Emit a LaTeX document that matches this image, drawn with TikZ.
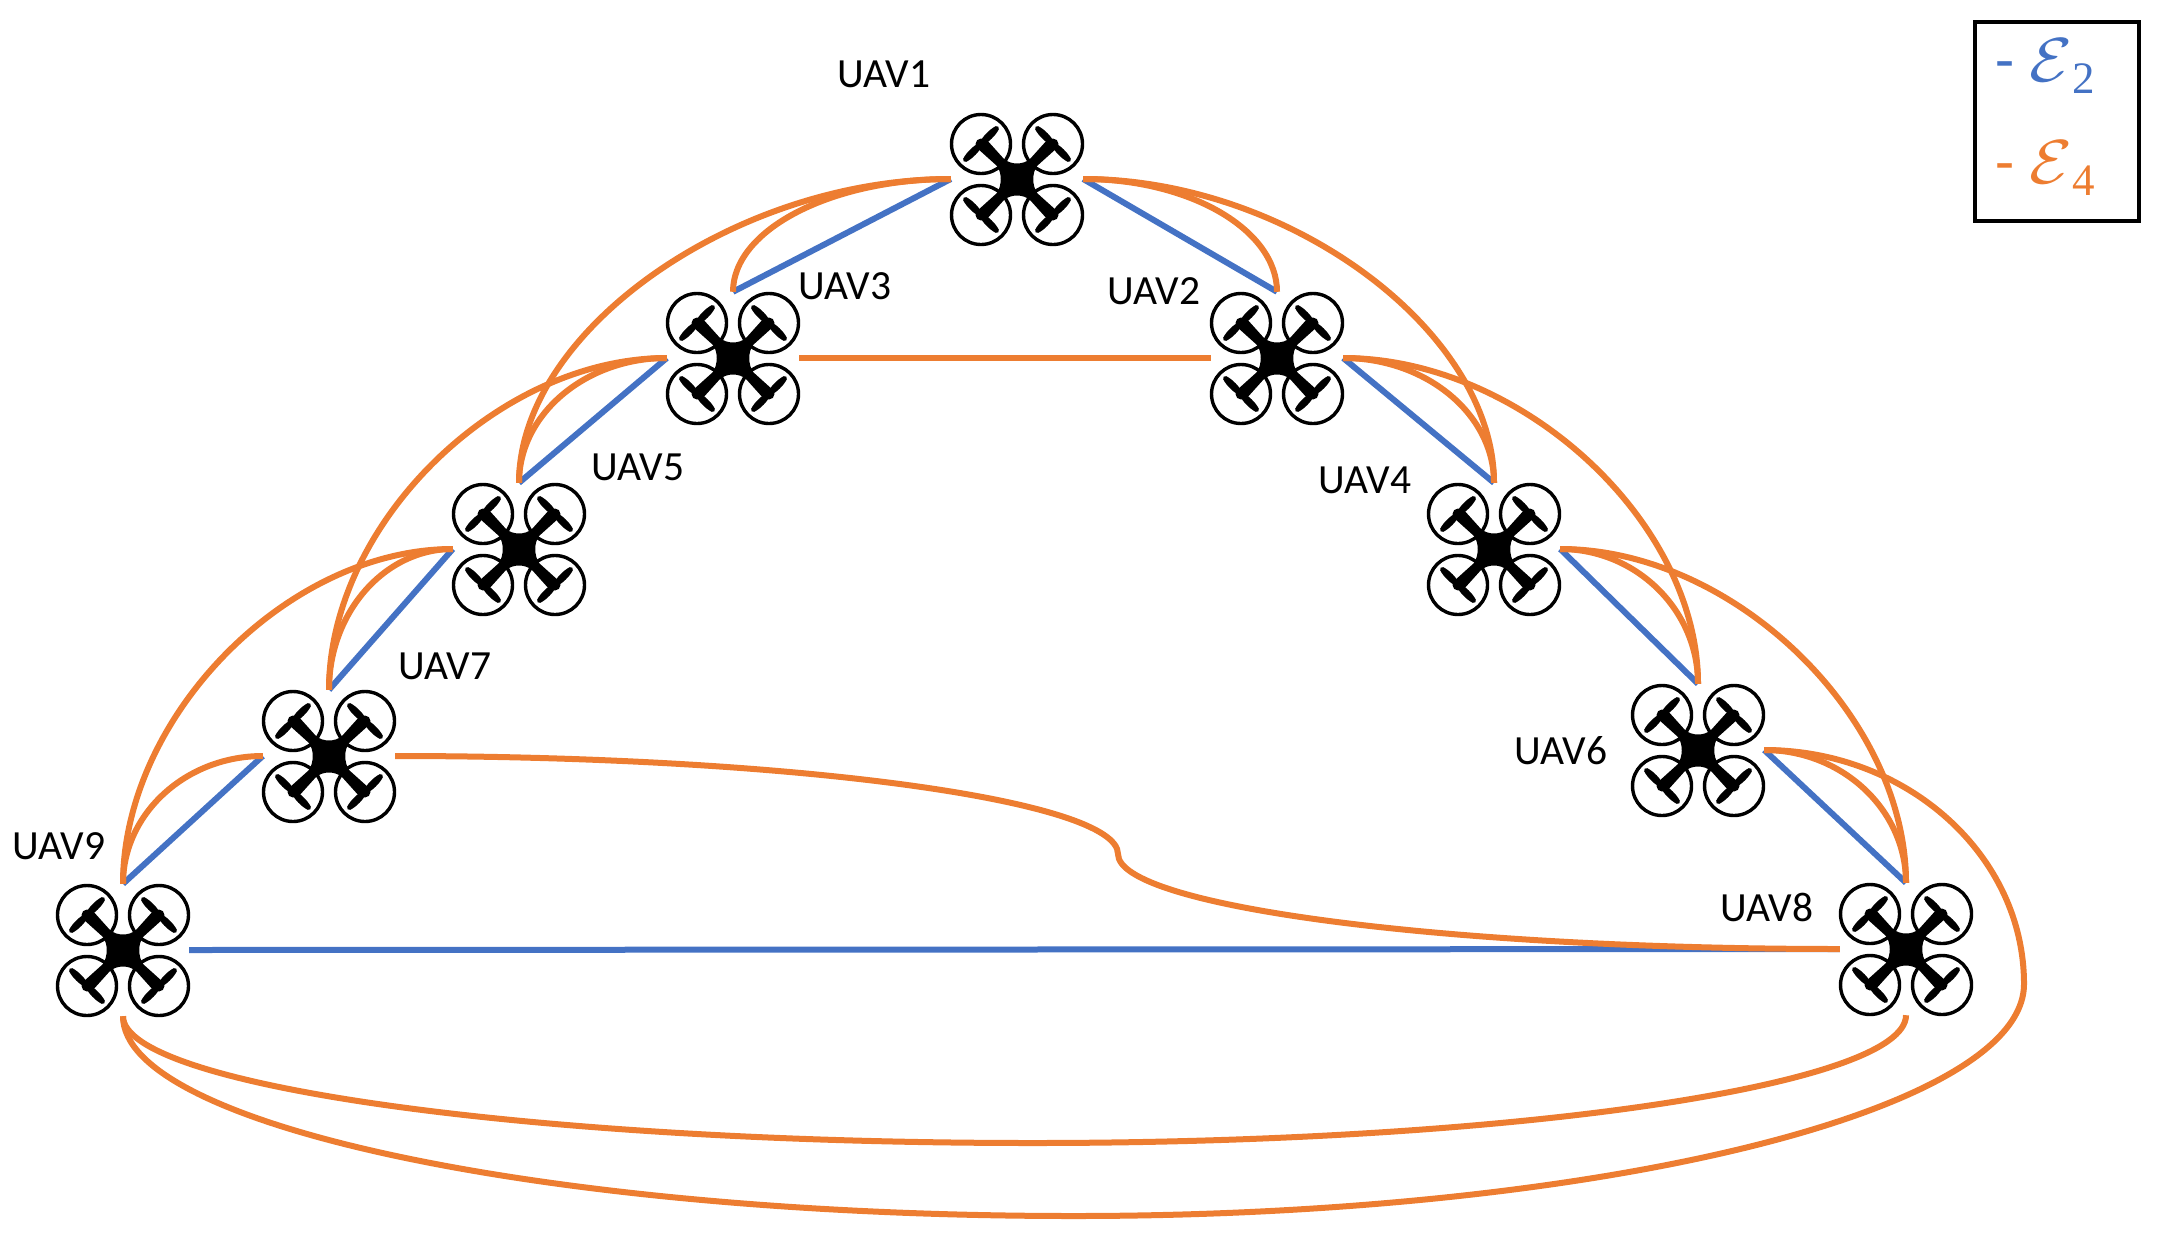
\documentclass[tikz,border=0pt]{standalone}
\usepackage{graphicx}
\usepackage{fontspec}
\setmainfont{Carlito}
\newfontfamily\digitfont{Liberation Serif}
\usetikzlibrary{calc}
\definecolor{eblue}{HTML}{4472C4}
\definecolor{eorange}{HTML}{ED7D31}
\newcommand{\bladepath}{(0,-2) .. controls (6,-4) and (16,-4.5) .. (23,-2.2) .. controls (25,-1) and (25,1) .. (23,2.2) .. controls (16,4.5) and (6,4) .. (0,2) -- cycle}
\newcommand{\legendsym}[1]{\scalebox{2.5}{\Huge -\hspace{6.2pt}\scalebox{1.12}[1]{$\mathcal{E}$}\raisebox{-4.8pt}{\digitfont\fontsize{18}{20}\selectfont #1}}}
\tikzset{
  x=1pt,y=-1pt,
  blueline/.style={draw=eblue,line width=6pt},
  orangeline/.style={draw=eorange,line width=6pt},
  qarc/.style={to path={.. controls ($(\tikztostart)!.55!(\tikztostart -| \tikztotarget)$) and ($(\tikztotarget)!.55!(\tikztostart -| \tikztotarget)$) .. (\tikztotarget)}},
  qarcf/.style={to path={.. controls ($(\tikztostart)!.5!(\tikztostart -| \tikztotarget)$) and ($(\tikztotarget)!.5!(\tikztostart -| \tikztotarget)$) .. (\tikztotarget)}},
  qarcb/.style={to path={.. controls ($(\tikztostart)!.55!(\tikztostart |- \tikztotarget)$) and ($(\tikztotarget)!.55!(\tikztostart |- \tikztotarget)$) .. (\tikztotarget)}},
  dronebox/.style={inner sep=0pt,minimum size=132pt,shape=rectangle},
  uavlabel/.style={inner sep=0pt,font=\fontsize{41.5}{48}\selectfont},
  legendtext/.style={inner sep=0pt,anchor=west},
  rotor/.pic={
    \draw[line width=3.4pt] (0,0) circle (29.5);
    \fill (0,0) circle (5.5);
    \fill[rotate=#1] \bladepath;
    \fill[rotate=#1+180] \bladepath;
  },
  rotor/.default=45,
  drone/.pic={
    \pic at (-36,-35) {rotor=45};
    \pic at (36,-35) {rotor=-45};
    \pic at (-36,36) {rotor=-45};
    \pic at (36,36) {rotor=45};
    \fill (-40,-31) -- (-31,-40) -- (-13,-20) .. controls (-6,-14) and (6,-14) .. (13,-20) -- (31,-40) -- (40,-31) -- (20,-13) .. controls (15,-6) and (15,6) .. (20,14) -- (40,32) -- (31,41) -- (13,21) .. controls (6,15) and (-6,15) .. (-13,21) -- (-31,41) -- (-40,32) -- (-20,14) .. controls (-15,6) and (-15,-6) .. (-20,-13) -- cycle;
  }
}
\begin{document}
\begin{tikzpicture}
\useasboundingbox (0,0) rectangle (2159,1242);
% drones
\node[dronebox] (u1) at (1017,179) {};
\node[dronebox] (u2) at (1277,358) {};
\node[dronebox] (u3) at (733,358) {};
\node[dronebox] (u4) at (1494,549) {};
\node[dronebox] (u5) at (519,549) {};
\node[dronebox] (u6) at (1698,750) {};
\node[dronebox] (u7) at (329,756) {};
\node[dronebox] (u8) at (1906,949) {};
\node[dronebox] (u9) at (123,950) {};
\foreach \n in {u1,u2,u3,u4,u5,u6,u7,u8,u9} \pic at (\n) {drone};
% labels
\node[uavlabel] (l1) at (884,74) {UAV1};
\node[uavlabel] (l3) at (845,286) {UAV3};
\node[uavlabel] (l2) at (1154,291) {UAV2};
\node[uavlabel] (l5) at (638,467) {UAV5};
\node[uavlabel] (l4) at (1365,480) {UAV4};
\node[uavlabel] (l7) at (445,666) {UAV7};
\node[uavlabel] (l6) at (1561,751) {UAV6};
\node[uavlabel] (l9) at (59,846) {UAV9};
\node[uavlabel] (l8) at (1767,907) {UAV8};
% helper points of the long curves
\coordinate (smid) at (1118,854);
\coordinate (loopr) at (2024,984);
\coordinate (loopb) at (1074,1216);
\coordinate (lowb) at (1033,1143);
% blue edges
\draw[blueline] (u1.west) -- (u3.north);
\draw[blueline] (u1.east) -- (u2.north);
\draw[blueline] (u3.west) -- (u5.north);
\draw[blueline] (u2.east) -- (u4.north);
\draw[blueline] (u5.west) -- (u7.north);
\draw[blueline] (u4.east) -- (u6.north);
\draw[blueline] (u7.west) -- (u9.north);
\draw[blueline] (u6.east) -- (u8.north);
\draw[blueline] (u9.east) -- (u8.west);
% orange edges
\draw[orangeline] (u1.west) to[qarc] (u3.north);
\draw[orangeline] (u1.west) to[qarcf] (u5.north);
\draw[orangeline] (u3.west) to[qarc] (u5.north);
\draw[orangeline] (u3.west) to[qarcf] (u7.north);
\draw[orangeline] (u5.west) to[qarc] (u7.north);
\draw[orangeline] (u5.west) to[qarcf] (u9.north);
\draw[orangeline] (u7.west) to[qarc] (u9.north);
\draw[orangeline] (u1.east) to[qarc] (u2.north);
\draw[orangeline] (u1.east) to[qarcf] (u4.north);
\draw[orangeline] (u2.east) to[qarc] (u4.north);
\draw[orangeline] (u2.east) to[qarcf] (u6.north);
\draw[orangeline] (u4.east) to[qarc] (u6.north);
\draw[orangeline] (u4.east) to[qarcf] (u8.north);
\draw[orangeline] (u6.east) to[qarc] (u8.north);
\draw[orangeline] (u3.east) -- (u2.west);
\draw[orangeline] (u7.east) to[qarc] (smid) to[qarcb] (u8.west);
\draw[orangeline] (u8.south) to[qarcb] (lowb) to[qarc] (u9.south);
\draw[orangeline] (u6.east) to[qarc] (loopr) to[qarcb] (loopb) to[qarc] (u9.south);
% legend
\node[draw,line width=3.6pt,minimum width=164pt,minimum height=199pt,inner sep=0pt] (legend) at (2057,121.5) {};
\node[legendtext,text=eblue] (e2) at (1995,66) {\legendsym{2}};
\node[legendtext,text=eorange] (e4) at (1995,168) {\legendsym{4}};
\end{tikzpicture}
\end{document}
